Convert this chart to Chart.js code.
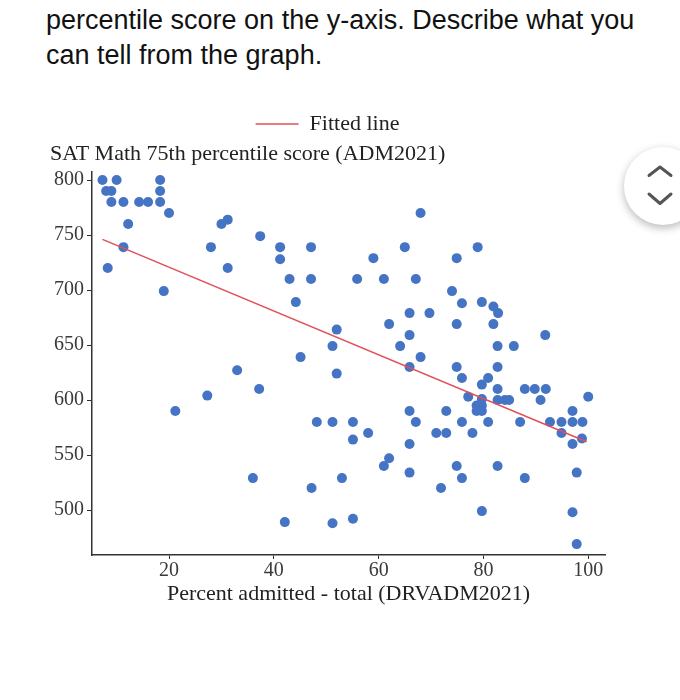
<!DOCTYPE html>
<html>
<head>
<meta charset="utf-8">
<script src="https://cdn.jsdelivr.net/npm/chart.js@4.4.1/dist/chart.umd.min.js"></script>
<style>
  html, body { margin: 0; padding: 0; background: #fff; }
  body { width: 680px; height: 700px; position: relative; overflow: hidden; }
  #question {
    position: absolute; left: 46px; top: 2.5px; margin: 0; width: 634px;
    font-family: 'Liberation Sans', Arial, sans-serif; font-size: 27px; line-height: 35px; color: #111;
  }
  #chartWrap { position: absolute; left: 0; top: 0; width: 680px; height: 700px; }
  .nav {
    position: absolute; left: 624px; top: 147px; width: 78px; height: 78px; border-radius: 50%;
    background: #fff; box-shadow: 0 3px 9px rgba(0, 0, 0, 0.28);
  }
  .nav svg { position: absolute; left: 0; top: 0; }
</style>
</head>
<body>
<p id="question">percentile score on the y-axis. Describe what you<br>can tell from the graph.</p>
<div id="chartWrap"><canvas id="scatterChart" width="680" height="700"></canvas></div>
<div class="nav">
  <svg width="78" height="78" viewBox="0 0 78 78">
    <polyline points="25,28.5 36,20 47,28.5" fill="none" stroke="#555" stroke-width="3" stroke-linecap="round" stroke-linejoin="round"/>
    <polyline points="25,47 36,56.5 47,47" fill="none" stroke="#555" stroke-width="3" stroke-linecap="round" stroke-linejoin="round"/>
  </svg>
</div>
<script>
// percent admitted (x) and SAT math 75th percentile (y), one entry per school
const admitPct = [
  7.3, 10, 8, 9, 9, 11.3, 14.3, 16, 18.3, 18.3, 18.3, 20, 12.2, 11.3, 8.3, 28, 30, 31.2, 31.2, 19,
  27.3, 21.2, 33, 36, 37.2, 37.4, 41.2, 41.2, 43, 44.2, 45.1, 42.1, 47.1, 47.1, 47.2, 48.2, 51.2, 51.2, 51.2, 52,
  52, 53, 55.1, 55.1, 55.1, 55.9, 58, 59, 61, 61, 62, 62, 64.1, 65, 65.9, 65.9, 65.9, 65.9, 65.9, 65.9,
  67.1, 67.1, 68, 68, 69.7, 71, 71.9, 72.9, 72.9, 74, 74.9, 74.9, 74.9, 74.9, 75.9, 75.9, 75.9, 75.9, 77.1, 77.9,
  78.7, 78.7, 78.9, 79.7, 79.7, 79.7, 79.7, 79.7, 79.7, 80.9, 80.9, 81.9, 81.9, 82.8, 82.7, 82.7, 82.7, 82.7, 82.7, 84.1,
  84.9, 85.8, 87, 87.9, 87.9, 89.8, 90.9, 91.8, 91.9, 92.7, 94.9, 94.9, 97, 97, 97, 97, 97.8, 97.8, 98.8, 98.9,
  100
];
const satMath75 = [
  800, 800, 790, 790, 780, 780, 780, 780, 780, 790, 800, 770, 760, 739, 720, 739, 760, 764, 720, 699,
  604, 590, 627, 529, 610, 749, 739, 728, 710, 689, 639, 489, 739, 710, 520, 580, 580, 649, 488, 664,
  624, 529, 580, 564, 492, 710, 570, 729, 710, 540, 547, 669, 649, 739, 679, 659, 630, 590, 560, 534,
  710, 580, 770, 639, 679, 570, 520, 570, 590, 699, 729, 669, 630, 540, 688, 620, 580, 529, 603, 570,
  595, 590, 739, 689, 614, 601, 595, 590, 499, 620, 580, 685, 669, 679, 649, 630, 610, 600, 540, 600,
  600, 649, 580, 610, 529, 610, 600, 659, 610, 580, 580, 570, 590, 580, 560, 498, 534, 469, 565, 580,
  603
];
// fitted regression line, drawn between the extreme x values
const fitX = [7.3, 99.7];
const fitY = [746, 562];

const xTicks = [20, 40, 60, 80, 100];
const yTicks = [500, 550, 600, 650, 700, 750, 800];

Chart.defaults.font.family = "'Liberation Serif', 'Times New Roman', serif";

const ctx = document.getElementById('scatterChart');

new Chart(ctx, {
    type: 'scatter',
    data: {
        datasets: [
            {
                label: 'Schools',
                data: admitPct.map((x, i) => ({ x: x, y: satMath75[i] })),
                backgroundColor: '#4674c4',
                borderWidth: 0,
                pointRadius: 5,
                order: 2
            },
            {
                type: 'line',
                label: 'Fitted line',
                data: fitX.map((x, i) => ({ x: x, y: fitY[i] })),
                borderColor: '#e0505a',
                backgroundColor: '#e0505a',
                borderWidth: 1.5,
                pointRadius: 0,
                pointStyle: 'line',
                showLine: true,
                fill: false,
                order: 1
            }
        ]
    },
    options: {
        responsive: false,
        devicePixelRatio: 1,
        animation: false,
        layout: {
            padding: { top: 103, left: 50, right: 75, bottom: 92.8 }
        },
        plugins: {
            legend: {
                display: true,
                position: 'top',
                labels: {
                    filter: item => item.text === 'Fitted line',
                    usePointStyle: true,
                    pointStyleWidth: 43,
                    color: '#222',
                    padding: 10,
                    font: { size: 22 }
                }
            },
            title: {
                display: true,
                text: 'SAT Math 75th percentile score (ADM2021)',
                align: 'start',
                position: 'top',
                weight: 500,
                color: '#222',
                font: { size: 22, weight: 'normal', lineHeight: 1 },
                padding: { top: -2, bottom: 7 }
            },
            tooltip: { enabled: false }
        },
        scales: {
            x: {
                type: 'linear',
                min: 5.3,
                max: 103.2,
                afterBuildTicks: s => { s.ticks = xTicks.map(v => ({ value: v })); },
                afterFit: s => { s.height = 52.2; },
                border: { display: true, color: '#333', width: 1.5 },
                grid: { display: true, drawOnChartArea: false, tickLength: 4, color: '#333' },
                ticks: { color: '#3a3a3a', padding: 0, font: { size: 20 } },
                title: {
                    display: true,
                    text: 'Percent admitted - total (DRVADM2021)',
                    color: '#222',
                    padding: 0,
                    font: { size: 22 }
                }
            },
            y: {
                type: 'linear',
                min: 459.1,
                max: 807.3,
                afterBuildTicks: s => { s.ticks = yTicks.map(v => ({ value: v })); },
                afterFit: s => { s.width = 42; },
                border: { display: true, color: '#333', width: 1.5 },
                grid: { display: true, drawOnChartArea: false, tickLength: 5, color: '#333' },
                ticks: { color: '#3a3a3a', padding: 3, font: { size: 20 } }
            }
        }
    }
});
</script>
</body>
</html>
